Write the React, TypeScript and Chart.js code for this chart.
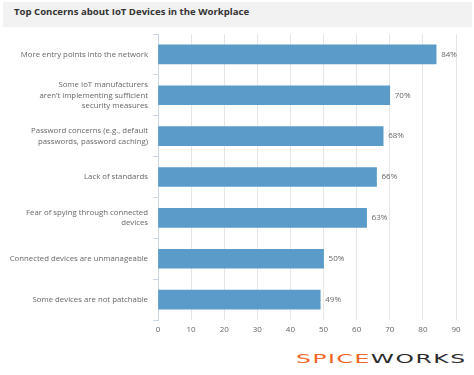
import React, { useEffect, useRef } from "react";
import { Chart, registerables } from "chart.js";

Chart.register(...registerables);

const categories: (string | string[])[] = [
  "More entry points into the network",
  ["Some IoT manufacturers", "aren\u2019t implementing sufficient", "security measures"],
  ["Password concerns (e.g., default", "passwords, password caching)"],
  "Lack of standards",
  ["Fear of spying through connected", "devices"],
  "Connected devices are unmanageable",
  "Some devices are not patchable",
];
const values = [84, 70, 68, 66, 63, 50, 49];
const xMin = 0;
const xMax = 90;
const xStep = 10;
const titleText = "Top Concerns about IoT Devices in the Workplace";

const FONT = "'Open Sans', 'DejaVu Sans', sans-serif";

const valueLabels = {
  id: "valueLabels",
  afterDatasetsDraw(chart: any) {
    const ctx = chart.ctx;
    const meta = chart.getDatasetMeta(0);
    ctx.save();
    ctx.font = `8px ${FONT}`;
    ctx.fillStyle = "#666666";
    ctx.textAlign = "left";
    ctx.textBaseline = "middle";
    meta.data.forEach((el: any, i: number) => {
      ctx.fillText(`${values[i]}%`, el.x + 5, el.y);
    });
    ctx.restore();
  },
};

export default function App() {
  const ref = useRef<HTMLCanvasElement | null>(null);

  useEffect(() => {
    if (!ref.current) return;
    const chart = new Chart(ref.current, {
      type: "bar",
      data: {
        labels: categories,
        datasets: [
          {
            data: values,
            backgroundColor: "#5a9bc9",
            barThickness: 19,
            borderWidth: 0,
          },
        ],
      },
      options: {
        indexAxis: "y",
        animation: false,
        responsive: false,
        devicePixelRatio: 1,
        layout: { padding: { left: 0, right: 18, top: 34, bottom: 0 } },
        plugins: {
          legend: { display: false },
          tooltip: { enabled: false },
          title: { display: false },
        },
        scales: {
          x: {
            type: "linear",
            min: xMin,
            max: xMax,
            position: "bottom",
            afterFit: (s: any) => {
              s.height = 20;
            },
            ticks: {
              stepSize: xStep,
              color: "#666666",
              font: { family: FONT, size: 8 },
              padding: 5,
            },
            grid: { color: "#e6e6e6", drawTicks: false, lineWidth: 1 },
            border: { display: false },
          },
          y: {
            afterFit: (s: any) => {
              s.width = 158;
            },
            ticks: {
              color: "#666666",
              font: { family: FONT, size: 7.8, lineHeight: 1.35 },
              padding: 5,
              autoSkip: false,
            },
            grid: {
              offset: true,
              drawOnChartArea: false,
              drawTicks: true,
              tickLength: 5,
              tickColor: "#ccd6eb",
            },
            border: { display: true, color: "#ccd6eb" },
          },
        },
      },
      plugins: [valueLabels],
    });
    return () => chart.destroy();
  }, []);

  return (
    <div
      style={{
        position: "fixed",
        left: 0,
        top: 0,
        width: 474,
        height: 375,
        background: "#ffffff",
        overflow: "hidden",
      }}
    >
      <canvas
        ref={ref}
        width={474}
        height={340}
        style={{ position: "absolute", left: 0, top: 0, width: 474, height: 340 }}
      />
      <div
        style={{
          position: "absolute",
          left: 3,
          top: 2,
          width: 469,
          height: 25,
          background: "#f2f2f2",
        }}
      />
      <div
        style={{
          position: "absolute",
          left: 14,
          top: 6,
          fontFamily: FONT,
          fontWeight: 700,
          fontSize: 9.6,
          lineHeight: "11px",
          color: "#333333",
          whiteSpace: "nowrap",
        }}
      >
        {titleText}
      </div>
      <div
        style={{
          position: "absolute",
          left: 296,
          top: 353,
          fontFamily: "'DejaVu Sans', sans-serif",
          fontSize: 12,
          lineHeight: "12px",
          whiteSpace: "nowrap",
          letterSpacing: 0.8,
          transform: "scaleX(1.95)",
          transformOrigin: "left top",
        }}
      >
        <span style={{ color: "#f26522" }}>SPICE</span>
        <span style={{ color: "#2b2b2b" }}>WORKS</span>
      </div>
    </div>
  );
}
